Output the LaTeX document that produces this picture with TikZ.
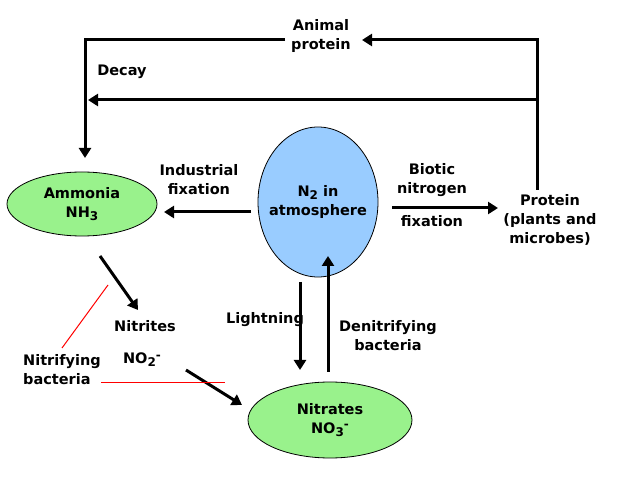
\documentclass[tikz,border=0pt]{standalone}
\usepackage{fontspec}
\setmainfont{DejaVu Sans}
\usetikzlibrary{arrows.meta}
\definecolor{lg}{HTML}{99F28C}
\definecolor{lb}{HTML}{99CCFF}
\newcommand{\sbs}[1]{\raisebox{-0.35ex}{\fontsize{12}{12}\selectfont #1}}
\newcommand{\sps}[1]{\raisebox{0.6ex}{\fontsize{12}{12}\selectfont #1}}
\begin{document}
\begin{tikzpicture}[x=1pt,y=-1pt,font=\bfseries\fontsize{14.5}{19}\selectfont,
  ar/.style={line width=3pt,-{Triangle[length=10pt,width=12pt]}},
  rl/.style={draw=red,line width=1pt},
  lab/.style={align=center,inner sep=1pt}]
\useasboundingbox (0,0) rectangle (638,478);
\fill[lg] (82,204) ellipse (75 and 32);
\draw[line width=0.8pt] (82,204) ellipse (75 and 32);
\fill[lb] (318,202) ellipse (60 and 75);
\draw[line width=0.8pt] (318,202) ellipse (60 and 75);
\fill[lg] (330,420) ellipse (82 and 38);
\draw[line width=0.8pt] (330,420) ellipse (82 and 38);
\node[lab] (amm) at (82,204) {Ammonia\\NH\sbs{3}};
\node[lab] (n2) at (318,202) {N\sbs{2} in\\atmosphere};
\node[lab] (nitrates) at (330,420) {Nitrates\\NO\sbs{3}\sps{-}};
\node[lab] (prot) at (550,220) {Protein\\(plants and\\microbes)};
\node[lab] (animal) at (321,36) {Animal\\protein};
\node[lab] (decay) at (122,72) {Decay};
\node[lab] (ind) at (199,180) {Industrial\\fixation};
\node[lab] (bio) at (432,180) {Biotic\\nitrogen};
\node[lab] (fix) at (432,221) {fixation};
\node[lab] (light) at (265,320) {Lightning};
\node[lab] (den) at (388,336) {Denitrifying\\bacteria};
\node[lab] (nitrites) at (145,326) {Nitrites};
\node[lab] (no2) at (142,360) {NO\sbs{2}\sps{-}};
\node[lab,align=left] (nb) at (62,370) {Nitrifying\\bacteria};
\coordinate (c1) at (537,190); \coordinate (c2) at (537,40);
\coordinate (c3) at (85,40); \coordinate (c4) at (537,100);
\coordinate (a1) at (362,40); \coordinate (a2) at (285,40);
\draw[ar] (c1) -- (c2) -- (a1);
\draw[ar] (a2) -- (c3) -- (85,158);
\draw[ar] (c4) -- (88,100);
\draw[ar] (251,212) -- (164,212);
\draw[ar] (392,208) -- (498,208);
\draw[ar] (300,282) -- (300,370);
\draw[ar] (328,372) -- (328,256);
\draw[ar] (100,256) -- (138,310);
\draw[ar] (186,370) -- (242,405);
\draw[rl] (62,348) -- (108,285);
\draw[rl] (101,383) -- (225,383);
\end{tikzpicture}
\end{document}
